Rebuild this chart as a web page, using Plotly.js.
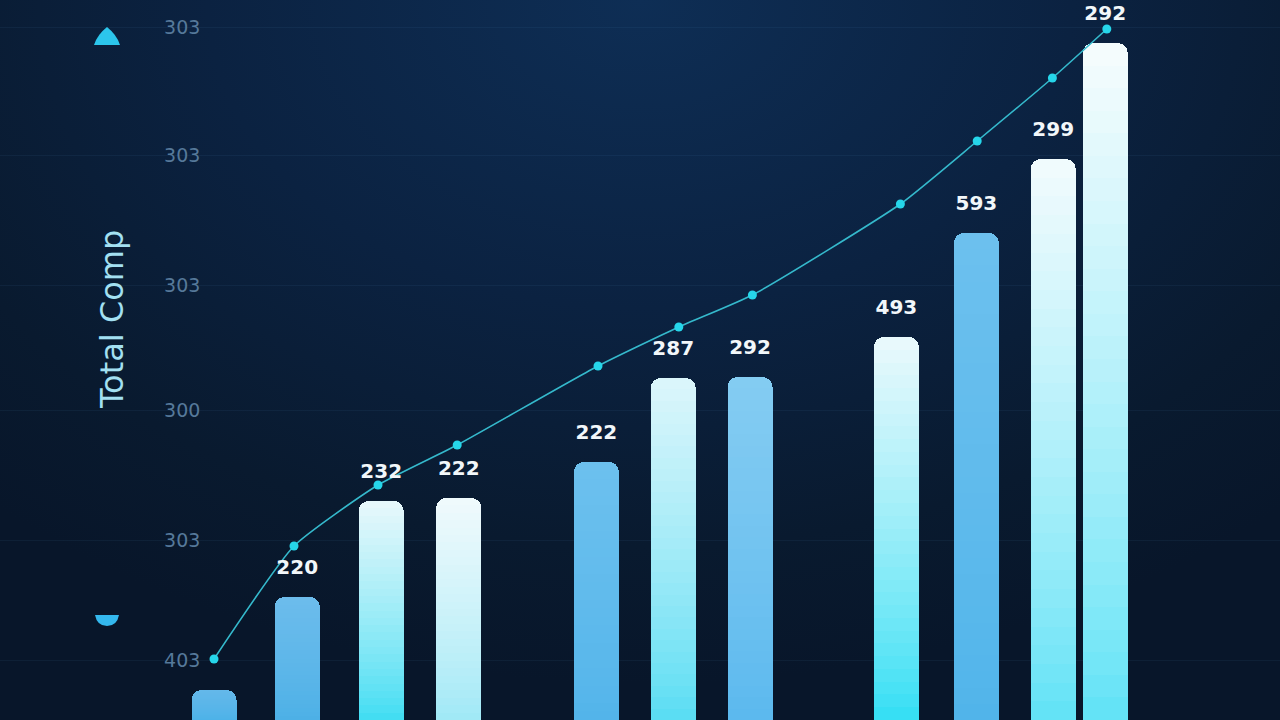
<!DOCTYPE html>
<html>
<head>
<meta charset="utf-8">
<script src="https://cdn.plot.ly/plotly-3.0.1.min.js"></script>
<style>
  html, body { margin:0; padding:0; width:1280px; height:720px; overflow:hidden;
    background: radial-gradient(ellipse 75% 95% at 50% 0%, #0e2e55 0%, #0b2241 45%, #091a2f 80%, #08162a 100%); }
  #chart { width:1280px; height:720px; }
</style>
</head>
<body>
<div id="chart"></div>
<script>
// ---- data ----
const xPos       = [1, 2.04, 3.09, 4.06, 5.78, 6.74, 7.7, 9.53, 10.53, 11.49, 12.14];
const totalComp  = [30, 123, 219, 222, 258, 342, 343, 383, 487, 561, 677];
const barLabels  = ['', '220', '232', '222', '222', '287', '292', '493', '593', '299', '292'];
const trendX     = [1, 2.0, 3.05, 4.04, 5.8, 6.81, 7.73, 9.58, 10.54, 11.48, 12.16];
const trendY     = [61, 174, 235, 275, 354, 393, 425, 516, 579, 642, 691];
const tickVals   = [693, 565, 435, 310, 180, 60];
const tickText   = ['303', '303', '303', '300', '303', '403'];

// ---- styles ----
const barTop    = ['#64b8ea','#6cbcec','#e8f8fb','#f0fafc','#6cc0ee','#dcf6fb','#84ccf2','#eaf9fc','#6cc0ee','#f2fbfd','#f6fcfd'];
const barBottom = ['#4cb2e8','#4cb0e6','#3cdcf2','#9ee8f6','#52b4ea','#56dcf3','#5ab8ee','#30def4','#50b4ea','#5ee2f6','#5ee2f6'];

function hex(h){ return [parseInt(h.slice(1,3),16), parseInt(h.slice(3,5),16), parseInt(h.slice(5,7),16)]; }
function mix(a,b,t){ const A=hex(a),B=hex(b); return 'rgb(' + A.map((v,i)=>Math.round(v+(B[i]-v)*t)).join(',') + ')'; }

const N = 30;
const traces = [];
for (let k = 0; k < N; k++) {
  const t = Math.pow((k + 0.5) / N, 0.8);
  traces.push({
    type: 'bar',
    x: xPos,
    y: totalComp.map(v => v / N),
    width: 0.5625,
    marker: { color: barBottom.map((c, i) => mix(c, barTop[i], t)), line: { width: 0 } },
    hoverinfo: 'skip',
    showlegend: false
  });
}
traces.push({
  type: 'scatter', mode: 'lines+markers',
  x: trendX, y: trendY,
  line: { color: '#35b9cc', width: 1.6, shape: 'spline', smoothing: 0.5 },
  marker: { size: 9, color: '#26d6ea' },
  hoverinfo: 'skip', showlegend: false
});
traces.push({
  type: 'scatter', mode: 'text',
  x: xPos, y: totalComp.map(v => v + 28),
  text: barLabels,
  textposition: 'middle center',
  textfont: { family: 'DejaVu Sans', size: 20, color: '#f2f7fa', weight: 'bold' },
  cliponaxis: false,
  hoverinfo: 'skip', showlegend: false
});

const P = (px, py) => (px / 1280).toFixed(5) + ' ' + (1 - py / 720).toFixed(5);
const tri  = `M ${P(94,45)} Q ${P(97,35)} ${P(107,27)} Q ${P(117,35)} ${P(120,45)} Z`;
const half = `M ${P(95,615)} L ${P(119,615)} Q ${P(117,626)} ${P(107,626)} Q ${P(97,626)} ${P(95,615)} Z`;

const layout = {
  width: 1280, height: 720,
  margin: { l: 0, r: 0, t: 0, b: 0 },
  paper_bgcolor: 'rgba(0,0,0,0)', plot_bgcolor: 'rgba(0,0,0,0)',
  barmode: 'stack',
  barcornerradius: 10,
  xaxis: { range: [-1.675, 14.325], visible: false, fixedrange: true },
  yaxis: {
    range: [0, 720], anchor: 'free', position: 0.1565, side: 'left',
    tickvals: tickVals, ticktext: tickText, ticks: '',
    tickfont: { family: 'DejaVu Sans', size: 19, color: '#56799a' },
    showgrid: true, gridcolor: 'rgba(90,150,210,0.08)', gridwidth: 1,
    zeroline: false, showline: false, fixedrange: true
  },
  annotations: [{
    text: 'Total Comp', xref: 'paper', yref: 'paper',
    x: 112 / 1280, y: 1 - 320 / 720, xanchor: 'center', yanchor: 'middle',
    showarrow: false, textangle: -90,
    font: { family: 'DejaVu Sans', size: 32, color: '#a3e0f2' }
  }],
  shapes: [
    { type: 'path', xref: 'paper', yref: 'paper', path: tri, fillcolor: '#2cc6ec', line: { width: 0 } },
    { type: 'path', xref: 'paper', yref: 'paper', path: half, fillcolor: '#34b8ee', line: { width: 0 } }
  ]
};

Plotly.newPlot('chart', traces, layout, { staticPlot: true, displayModeBar: false });
</script>
</body>
</html>
